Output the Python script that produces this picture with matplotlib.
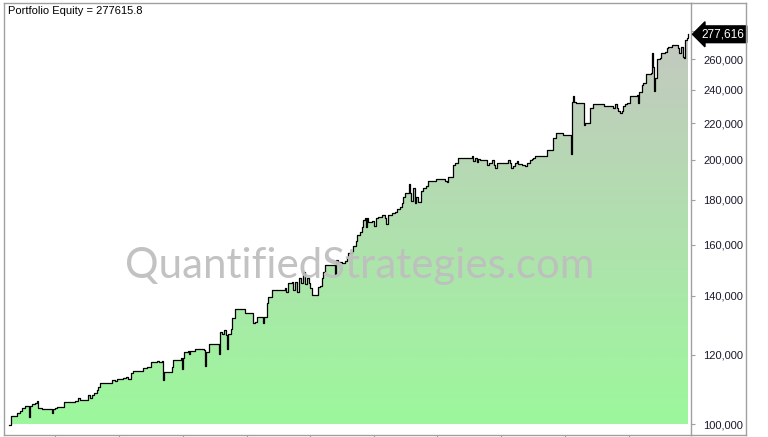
import matplotlib
matplotlib.use('Agg')
import matplotlib.pyplot as plt
import numpy as np
from matplotlib.colors import LinearSegmentedColormap
from matplotlib.lines import Line2D
from matplotlib.ticker import FixedLocator, FuncFormatter, NullLocator

# Equity curve (bar index, equity in thousands)
bars = [9, 11, 17, 20, 22, 25, 29, 30, 32, 35, 37, 38, 42, 52, 53, 55, 57, 64, 75, 78,
        80, 85, 88, 90, 92, 94, 97, 98, 100, 112, 115, 117, 123, 126, 128, 131, 133, 143, 147, 151,
        157, 159, 162, 163, 164, 172, 173, 181, 182, 183, 184, 188, 189, 190, 195, 204, 205, 206, 209, 219,
        220, 222, 224, 226, 227, 228, 231, 232, 235, 245, 253, 255, 257, 263, 264, 267, 268, 272, 285, 286,
        288, 292, 293, 295, 297, 299, 301, 303, 305, 307, 309, 310, 312, 318, 320, 322, 323, 325, 335, 336,
        338, 342, 345, 347, 348, 352, 353, 356, 357, 360, 362, 363, 365, 366, 367, 368, 372, 374, 376, 378,
        382, 385, 386, 388, 392, 395, 397, 400, 402, 403, 405, 408, 409, 410, 411, 413, 415, 416, 418, 421,
        423, 426, 428, 436, 445, 447, 448, 453, 455, 458, 472, 473, 475, 477, 478, 480, 487, 489, 492, 494,
        495, 497, 508, 510, 511, 513, 515, 517, 518, 522, 525, 527, 530, 532, 533, 535, 547, 553, 556, 563,
        571, 572, 573, 574, 576, 584, 585, 590, 593, 604, 612, 613, 615, 617, 618, 620, 622, 623, 625, 627,
        630, 637, 638, 639, 642, 643, 646, 651, 652, 653, 654, 655, 657, 660, 661, 665, 667, 668, 672, 678,
        679, 681, 683, 684, 685, 687, 688]
equity_k = [99.8, 102.1, 102.9, 103.5, 104.3, 104.8, 101.8, 104.8, 105.4, 105.6, 106.2, 104.3, 104.0, 102.9, 104.0, 104.3, 104.5, 105.9, 106.2, 107.0,
            106.5, 106.7, 107.9, 107.0, 107.9, 108.4, 109.3, 110.2, 111.3, 112.2, 111.9, 112.5, 112.8, 113.1, 112.5, 114.3, 114.9, 115.8, 116.1, 117.6,
            117.9, 117.6, 117.9, 112.2, 114.6, 116.1, 118.2, 119.1, 115.5, 119.1, 120.7, 121.0, 120.1, 121.0, 121.7, 121.4, 116.4, 120.7, 123.3, 120.1,
            127.2, 126.6, 127.9, 126.3, 121.7, 126.6, 128.5, 132.0, 135.1, 133.7, 130.3, 130.8, 132.3, 130.3, 132.3, 137.2, 139.4, 142.0, 142.7, 141.3,
            144.6, 145.0, 142.0, 145.0, 141.3, 146.5, 144.6, 148.8, 144.2, 146.8, 144.6, 142.7, 140.2, 143.1, 143.8, 146.5, 148.8, 151.6, 148.4, 153.6,
            153.0, 152.4, 153.2, 154.9, 156.4, 157.6, 159.6, 161.7, 164.0, 165.3, 167.4, 170.5, 171.4, 167.8, 171.4, 169.7, 170.1, 168.2, 171.4, 171.9,
            172.8, 171.4, 168.8, 172.8, 173.7, 174.2, 175.9, 176.4, 178.7, 181.1, 183.0, 183.4, 187.4, 183.4, 179.6, 185.4, 178.7, 181.1, 179.1, 184.4,
            185.4, 186.4, 188.9, 189.9, 188.9, 188.5, 191.1, 197.2, 198.2, 201.0, 201.6, 199.4, 201.0, 198.6, 200.5, 200.0, 197.2, 198.2, 199.5, 197.2,
            195.6, 198.2, 200.0, 198.2, 195.6, 196.7, 198.2, 199.0, 197.7, 197.2, 196.7, 198.2, 199.5, 200.5, 201.0, 202.1, 205.3, 211.8, 214.6, 213.0,
            202.7, 232.3, 236.3, 232.3, 231.7, 219.2, 220.3, 229.1, 231.5, 230.3, 229.8, 228.6, 231.5, 229.1, 227.3, 225.7, 227.3, 230.3, 231.5, 232.1,
            235.9, 236.5, 232.1, 238.4, 243.0, 244.5, 250.5, 251.1, 264.0, 254.8, 239.6, 247.3, 260.5, 261.2, 264.0, 264.7, 267.5, 268.2, 269.6, 267.5,
            264.0, 268.2, 261.9, 261.2, 273.3, 274.7, 277.6]

y_ticks = [100000, 120000, 140000, 160000, 180000, 200000, 220000, 240000, 260000, 280000]
x_ticks = [55, 119, 183, 247, 310, 374, 437, 501, 565, 629]
final_equity = 277615.8
base_equity = 100000

t = np.array(bars, dtype=float)
eq = np.array(equity_k) * 1000

W, H = 768, 437
fig = plt.figure(figsize=(W / 100, H / 100), dpi=100)
fig.patch.set_facecolor('white')

left, right, top, bottom = 4, 690.5, 3, 434.5
ax = fig.add_axes([left / W, (H - bottom) / H, (right - left) / W, (bottom - top) / H])
ax.set_yscale('log')

frame_col = '#a0a0a0'
for s in ax.spines.values():
    s.set_color(frame_col)
    s.set_linewidth(1)

# gradient fill under the curve
fill = ax.fill_between(t, eq, base_equity, step='post', facecolor='none', edgecolor='none')
cmap = LinearSegmentedColormap.from_list('eqfill', ['#9cf89c', '#c4c8c0'])
grad = np.linspace(0, 1, 256).reshape(-1, 1)
im = ax.imshow(grad, cmap=cmap, aspect='auto', origin='lower',
               extent=(0, 1, 0, 1), transform=ax.transAxes, zorder=1)

ax.set_xlim(left, right)
ax.set_ylim(97360, 301300)

# place gradient between base level and curve top (axes coords)
to_ax = ax.transAxes.inverted()
y0 = to_ax.transform(ax.transData.transform((0, base_equity)))[1]
y1 = to_ax.transform(ax.transData.transform((0, eq.max())))[1]
im.set_extent((0, 1, y0, y1))
im.set_clip_path(fill.get_paths()[0], transform=ax.transData)

ax.step(t, eq, where='post', color='black', linewidth=0.9, zorder=3)

# watermark
wm = ax.text(0.518, 0.39, 'QuantifiedStrategies.com', transform=ax.transAxes,
             ha='center', va='center', fontsize=36, family='Lato',
             color='#bfbfbf', alpha=0.95, zorder=4)
fig.canvas.draw()
bb = wm.get_window_extent()
wm.set_fontsize(36 * 470 / bb.width)

# axes ticks (the 280,000 label sits under the last-value marker, so leave it blank)
ax.yaxis.tick_right()
ax.yaxis.set_major_locator(FixedLocator(y_ticks))
ax.yaxis.set_minor_locator(NullLocator())
ax.yaxis.set_major_formatter(FuncFormatter(lambda v, p: '' if v >= 280000 else f'{v:,.0f}'))
ax.tick_params(axis='y', which='major', length=3, width=0.8, color=frame_col,
               labelsize=8, labelcolor='#1a1a2e', pad=6)
for lbl in ax.get_yticklabels():
    lbl.set_family('Liberation Sans')
ax.xaxis.set_major_locator(FixedLocator(x_ticks))
ax.tick_params(axis='x', length=3, width=0.8, color=frame_col, labelbottom=False)

# last value marker on the price scale
ax.text(1.016, final_equity, f'{round(final_equity):,}', transform=ax.get_yaxis_transform(),
        ha='left', va='center', fontsize=8.5, family='Liberation Sans', color='white',
        bbox=dict(boxstyle='larrow,pad=0.2', fc='black', ec='black'), zorder=6,
        clip_on=False)

# title
fig.text(8 / W, 1 - 11 / H, f'Portfolio Equity = {final_equity}', fontsize=8,
         family='Liberation Sans', va='center', ha='left', color='black')

# outer frame around the price scale
xr = 746 / W
fig.add_artist(Line2D([right / W, xr], [1 - top / H, 1 - top / H], color=frame_col, lw=1))
fig.add_artist(Line2D([right / W, xr], [1 - bottom / H, 1 - bottom / H], color=frame_col, lw=1))
fig.add_artist(Line2D([xr, xr], [1 - bottom / H, 1 - top / H], color=frame_col, lw=1))

fig.savefig('out.png', dpi=100)
